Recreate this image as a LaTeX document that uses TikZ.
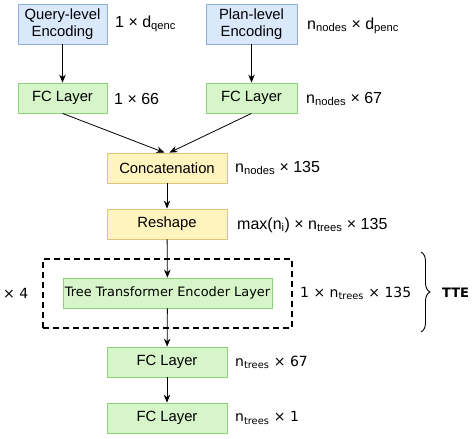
\documentclass[tikz,border=0pt]{standalone}
\usepackage{fontspec}
\setmainfont{Liberation Sans}
\newfontfamily\vfont{DejaVu Sans}
\usetikzlibrary{arrows.meta,decorations.pathreplacing}
\newcommand{\sbs}[1]{\textsubscript{#1}}
\begin{document}
\begin{tikzpicture}[x=1pt,y=-1pt,
  box/.style={draw, line width=0.8pt, minimum height=30pt, inner sep=0pt, align=center, font=\fontsize{14.8}{16.5}\selectfont},
  bluebox/.style={box, fill={rgb,255:red,218;green,232;blue,252}, draw={rgb,255:red,140;green,175;blue,220}},
  greenbox/.style={box, fill={rgb,255:red,214;green,245;blue,200}, draw={rgb,255:red,140;green,210;blue,120}},
  yellowbox/.style={box, fill={rgb,255:red,255;green,243;blue,190}, draw={rgb,255:red,220;green,200;blue,120}},
  lbl/.style={anchor=west, inner sep=0pt, font=\fontsize{16}{18}\selectfont},
  vlbl/.style={anchor=west, inner sep=0pt, font=\vfont\fontsize{14}{16}\selectfont},
  arr/.style={-{Stealth[length=8pt,width=6.5pt]}, line width=0.8pt},
]
\useasboundingbox (0,0) rectangle (474,439);
\node[bluebox, minimum width=89pt, minimum height=40pt] (q) at (62.5,24) {Query-level\\Encoding};
\node[bluebox, minimum width=91pt, minimum height=40pt] (p) at (251.5,24) {Plan-level\\Encoding};
\node[greenbox, minimum width=89pt] (fc1) at (62.5,98) {FC Layer};
\node[greenbox, minimum width=91pt] (fc2) at (251.5,98) {FC Layer};
\node[yellowbox, minimum width=120pt] (cat) at (167,168) {Concatenation};
\node[yellowbox, minimum width=120pt] (resh) at (167,224) {Reshape};
\node[greenbox, minimum width=209pt, font=\vfont\fontsize{12.9}{15}\selectfont] (tte) at (167.5,293) {Tree Transformer Encoder Layer};
\node[greenbox, minimum width=120pt] (fc3) at (167,362) {FC Layer};
\node[greenbox, minimum width=120pt] (fc4) at (167,418) {FC Layer};
\node[draw, line width=1.4pt, dash pattern=on 6pt off 4pt, minimum width=249pt, minimum height=69pt, inner sep=0pt] (dbox) at (167.5,293.5) {};

\node[lbl] (l1) at (115,24) {1 × d\sbs{qenc}};
\node[lbl] (l2) at (307,26) {n\sbs{nodes} × d\sbs{penc}};
\node[lbl] (l3) at (114,99) {1 × 66};
\node[lbl] (l4) at (306,99) {n\sbs{nodes} × 67};
\node[lbl] (l5) at (235,168) {n\sbs{nodes} × 135};
\node[lbl] (l6) at (237,225) {max(n\sbs{i}) × n\sbs{trees} × 135};
\node[vlbl] (l7) at (300,293) {1 × n\sbs{trees} × 135};
\node[vlbl] (l8) at (235,362) {n\sbs{trees} × 67};
\node[vlbl] (l9) at (235,418) {n\sbs{trees} × 1};
\node[vlbl] (x4) at (3,293) {× 4};
\node[anchor=west, inner sep=0pt, font=\vfont\bfseries\fontsize{13}{15}\selectfont] (tt) at (442,293) {TTE};
\coordinate (bt) at (421,252);
\coordinate (bb) at (421,332);
\draw[line width=0.9pt, decorate, decoration={brace, amplitude=9pt}] (bt) -- (bb);

\draw[arr] (q) -- (fc1);
\draw[arr] (p) -- (fc2);
\draw[arr] (fc1.south) -- ([xshift=-2.5pt]cat.north);
\draw[arr] (fc2.south) -- ([xshift=2.5pt]cat.north);
\draw[arr] (cat) -- (resh);
\draw[arr] (resh) -- (tte);
\draw[arr] (tte) -- (fc3);
\draw[arr] (fc3) -- (fc4);
\end{tikzpicture}
\end{document}
